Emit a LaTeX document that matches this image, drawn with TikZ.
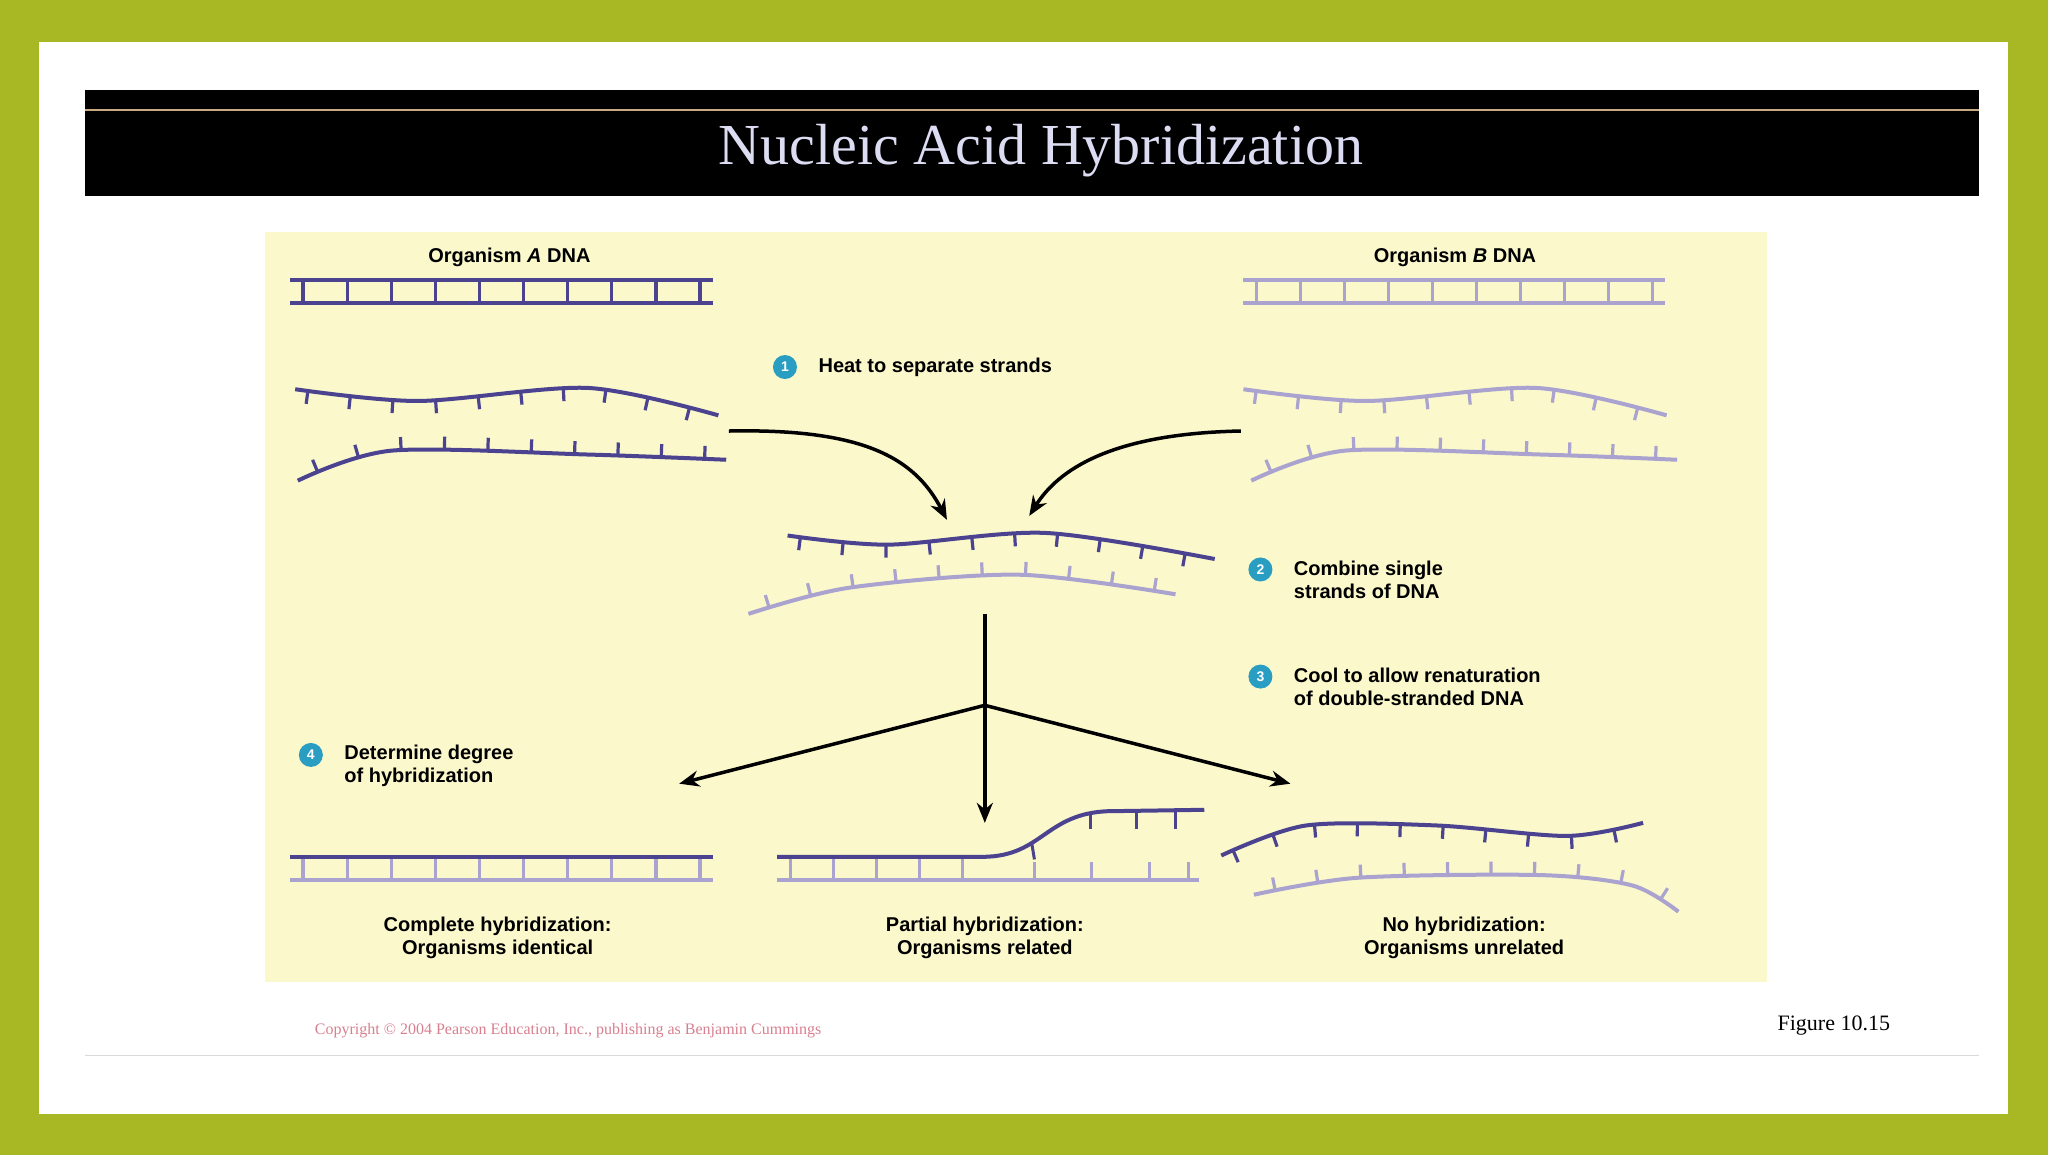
\documentclass[tikz,border=0pt]{standalone}
\usepackage{fontspec}
\setmainfont{Liberation Serif}
\setsansfont{Liberation Sans}
\usetikzlibrary{decorations.markings,arrows.meta}
\definecolor{grn}{HTML}{A8B824}
\definecolor{pan}{HTML}{FBF8CC}
\definecolor{dkp}{HTML}{4B4390}
\definecolor{ltp}{HTML}{ABA3CF}
\definecolor{teal}{HTML}{2A9EC2}
\definecolor{pink}{HTML}{D88090}
\definecolor{ttl}{HTML}{DCDCF2}
\tikzset{
 rail/.style={line width=4pt},
 tdown/.style={line width=4pt, postaction={decorate}, decoration={markings, mark=between positions 0.03 and 0.98 step 0.1 with {\draw[line width=3.2pt,#1] (0,0)--(0,-13pt);}}},
 tup/.style={line width=4pt, postaction={decorate}, decoration={markings, mark=between positions 0.05 and 0.98 step 0.1 with {\draw[line width=3.2pt,#1] (0,0)--(0,13pt);}}},
 arr/.style={line width=3.5pt,-{Stealth[length=20pt,width=16pt]}},
 num/.style={circle, fill=teal, text=white, font=\sffamily\bfseries\fontsize{14}{14}\selectfont, inner sep=0pt, minimum size=24pt},
 lab/.style={font=\sffamily\bfseries\fontsize{20}{23}\selectfont, align=left, anchor=west},
 captxt/.style={font=\sffamily\bfseries\fontsize{20}{23}\selectfont, align=center}
}
\newcommand{\ladder}[5]{% x1 x2 ytop color-top color-bottom
 \foreach \i in {0,...,9}{\draw[line width=3.2pt,#5] ({#1+10+\i*(#2-#1-20)/9},#3) -- ({#1+10+\i*(#2-#1-20)/9},#3+18);}
 \draw[rail,#4] (#1,#3) -- (#2,#3);
 \draw[rail,#5] (#1,#3+18) -- (#2,#3+18);}
\begin{document}
\begin{tikzpicture}[x=1.306pt,y=-1.306pt]
\fill[grn] (0,0) rectangle (1568,884);
\useasboundingbox (0,0) rectangle (1568,884);
\fill[white] (30,32) rectangle (1537,853);
\fill[black] (65,69) rectangle (1515,150);
\draw[line width=2pt,color={rgb,255:red,200;green,170;blue,130}] (65,84) -- (1515,84);
\node[text=ttl,font=\fontsize{58}{58}\selectfont] (title) at (797,115) {Nucleic Acid Hybridization};
\fill[pan] (203,178) rectangle (1353,752);
\draw[gray!30,line width=1pt] (65,808) -- (1515,808);
\node[text=pink,font=\fontsize{16}{16}\selectfont] (copy) at (435,789) {Copyright © 2004 Pearson Education, Inc., publishing as Benjamin Cummings};
\node[font=\fontsize{22}{22}\selectfont] (fig) at (1404,785) {Figure 10.15};
% headings
\node[captxt] (hA) at (390,197) {Organism \textit{A} DNA};
\node[captxt] (hB) at (1114,197) {Organism \textit{B} DNA};
\ladder{222}{546}{214}{dkp}{dkp}
\ladder{952}{1275}{214}{ltp}{ltp}
% separated strands
\draw[tdown=dkp,dkp] plot[smooth] coordinates {(226,298) (320,307) (450,297) (550,318)};
\draw[tup=dkp,dkp] plot[smooth] coordinates {(228,368) (300,345) (450,348) (556,352)};
\draw[tdown=ltp,ltp] plot[smooth] coordinates {(952,298) (1046,307) (1176,297) (1276,318)};
\draw[tup=ltp,ltp] plot[smooth] coordinates {(958,368) (1030,345) (1180,348) (1284,352)};
% combined
\draw[tdown=dkp,dkp] plot[smooth] coordinates {(603,410) (680,417) (800,408) (930,428)};
\draw[tup=ltp,ltp] plot[smooth] coordinates {(573,470) (650,450) (780,440) (900,455)};
\coordinate (sA) at (558,330); \coordinate (sB) at (950,330);
\coordinate (mA) at (725,398); \coordinate (mB) at (788,395);
\draw[arr] (sA) .. controls (660,328) and (700,350) .. (mA);
\draw[arr] (sB) .. controls (850,332) and (810,360) .. (mB);
\coordinate (top) at (754,470); \coordinate (fork) at (754,540);
\coordinate (eL) at (520,600); \coordinate (eM) at (754,630); \coordinate (eR) at (988,600);
\draw[line width=3.5pt] (top) -- (fork);
\draw[arr] (fork) -- (eM);
\draw[arr] (fork) -- (eL);
\draw[arr] (fork) -- (eR);
% steps
\node[num] (n1) at (601,281) {1}; \node[lab] (t1) at (624,281) {Heat to separate strands};
\node[num] (n2) at (965,436) {2}; \node[lab] (t2) at (988,444) {Combine single\\strands of DNA};
\node[num] (n3) at (965,518) {3}; \node[lab] (t3) at (988,526) {Cool to allow renaturation\\of double-stranded DNA};
\node[num] (n4) at (238,578) {4}; \node[lab] (t4) at (261,586) {Determine degree\\of hybridization};
% results
\ladder{222}{546}{656}{dkp}{ltp}
% partial
\foreach \x in {605,638,671,704,737}{\draw[line width=3.2pt,ltp] (\x,656) -- (\x,674);}
\foreach \x in {792,836,880,910}{\draw[line width=3pt,ltp] (\x,674) -- (\x,660);}
\draw[rail,ltp] (595,674) -- (918,674);
\draw[rail,dkp] (595,656) -- (752,656) .. controls (800,656) and (800,620) .. (855,621) -- (922,620);
\draw[line width=3pt,dkp] (790,646) -- (792,658);
\foreach \x in {835,870,900}{\draw[line width=3pt,dkp] (\x,622) -- (\x,635);}
% none
\draw[tdown=dkp,dkp] plot[smooth] coordinates {(935,655) (1000,632) (1100,632) (1200,640) (1258,630)};
\draw[tup=ltp,ltp] plot[smooth] coordinates {(960,685) (1040,672) (1180,670) (1250,678) (1285,698)};
\node[captxt] (c1) at (381,718) {Complete hybridization:\\Organisms identical};
\node[captxt] (c2) at (754,718) {Partial hybridization:\\Organisms related};
\node[captxt] (c3) at (1121,718) {No hybridization:\\Organisms unrelated};
\end{tikzpicture}
\end{document}
